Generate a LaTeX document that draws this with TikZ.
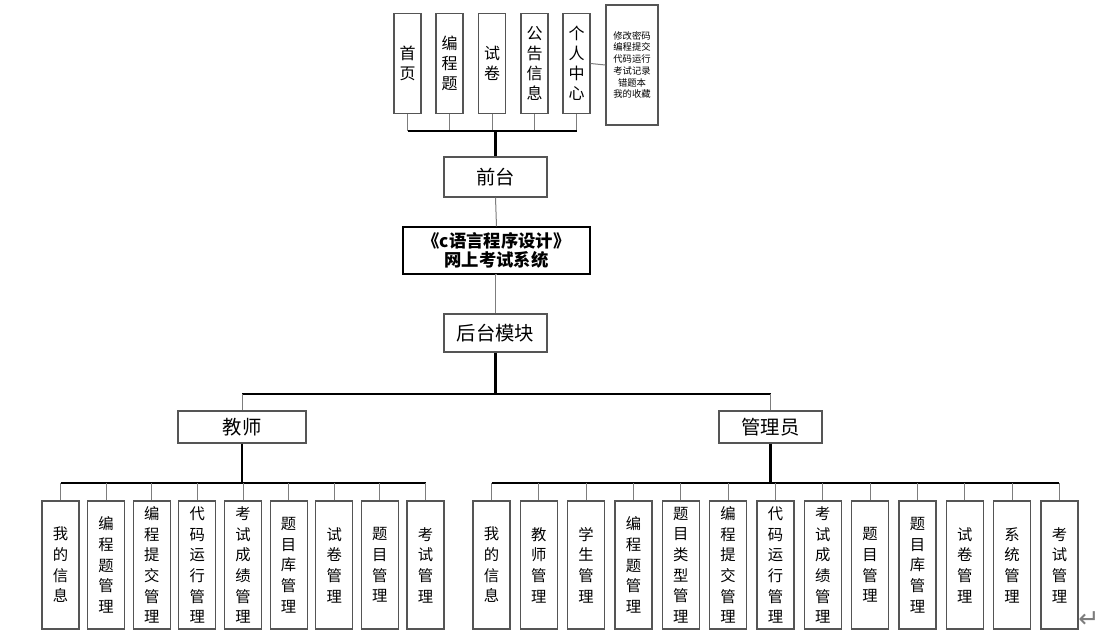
\documentclass[tikz,border=0pt]{standalone}
\usepackage{fontspec}
\setmainfont{Noto Sans CJK SC}
\newfontfamily\markfont{DejaVu Sans}
\definecolor{boxgray}{RGB}{85,85,85}
\definecolor{tickgray}{RGB}{125,125,125}
\tikzset{every picture/.style={line width=0.75pt}}
\tikzset{
  box/.style={draw=boxgray, line width=0.9pt, inner sep=0pt, align=center},
  vbox/.style={box, minimum width=20.25pt, minimum height=75pt, font=\fontsize{12}{15}\selectfont},
  sidebox/.style={box, minimum width=39pt, minimum height=90pt, font=\fontsize{7}{8.8}\selectfont},
  hbox/.style={box, minimum width=77.25pt, minimum height=28.5pt, font=\fontsize{14.5}{16}\selectfont},
  titlebox/.style={box, draw=black, line width=0.8pt, minimum width=140.25pt, minimum height=35.25pt, font=\fontsize{13}{14}\selectfont\bfseries},
  leafbox/.style={box, minimum width=27.75pt, minimum height=96pt, font=\fontsize{11.5}{15.5}\selectfont},
  tick/.style={draw=tickgray, line width=0.75pt},
  bus/.style={draw=black, line width=0.9pt},
  trunk/.style={draw=black, line width=1.8pt}
}

\begin{document}
\begin{tikzpicture}[x=0.75pt,y=0.75pt,yscale=-1,xscale=1]
\useasboundingbox (0,0) rectangle (1118,636);

% front end
\node[vbox] (t1) at (407.5,63.5) {首\\页};
\node[vbox] (t2) at (449.5,63.5) {编\\程\\题};
\node[vbox] (t3) at (492,63.5) {试\\卷};
\node[vbox] (t4) at (534.5,63.5) {公\\告\\信\\息};
\node[vbox] (t5) at (576.5,63.5) {个\\人\\中\\心};
\node[sidebox] (side) at (632,65) {修改密码\\编程提交\\代码运行\\考试记录\\错题本\\我的收藏};
\node[hbox, minimum height=30pt] (front) at (495.5,177) {前台};
\coordinate (topbus) at (495.5,131);

\draw[tick] (t5.east) -- (side.west);
\foreach \i in {1,...,5}
  \draw[tick] (t\i.south) -- (t\i.south |- topbus);
\draw[bus] (t1.south |- topbus) -- (t5.south |- topbus);
\draw[trunk] (topbus) -- (front.north);

% system
\node[titlebox] (sys) at (496.5,250.5) {《c语言程序设计》\\网上考试系统};
\node[hbox] (back) at (495.5,333) {后台模块};
\draw[tick] (front.south) -- (sys.north);
\draw[tick] (sys.south) -- (back.south |- sys.south) -- (back.north);

% back end
\node[hbox, minimum width=96pt, minimum height=24pt] (teacher) at (242,427) {教师};
\node[hbox, minimum height=24pt] (admin) at (770.5,427) {管理员};
\coordinate (midbus) at (495.5,394);
\draw[trunk] (back.south) -- (midbus);
\draw[bus] (teacher.north |- midbus) -- (admin.north |- midbus);
\draw[tick] (teacher.north |- midbus) -- (teacher.north);
\draw[tick] (admin.north |- midbus) -- (admin.north);

% teacher functions
\foreach \i/\txt in {1/{我\\的\\信\\息}, 2/{编\\程\\题\\管\\理}, 3/{编\\程\\提\\交\\管\\理},
    4/{代\\码\\运\\行\\管\\理}, 5/{考\\试\\成\\绩\\管\\理}, 6/{题\\目\\库\\管\\理},
    7/{试\\卷\\管\\理}, 8/{题\\目\\管\\理}, 9/{考\\试\\管\\理}}
  \node[leafbox] (tc\i) at ({60.5+45.625*(\i-1)},565) {\txt};
\coordinate (tbus) at (242,483);
\draw[trunk] (teacher.south) -- (tbus);
\draw[bus] (tc1.north |- tbus) -- (tc9.north |- tbus);
\foreach \i in {1,...,9}
  \draw[tick] (tc\i.north |- tbus) -- (tc\i.north);

% admin functions
\foreach \i/\txt in {1/{我\\的\\信\\息}, 2/{教\\师\\管\\理}, 3/{学\\生\\管\\理},
    4/{编\\程\\题\\管\\理}, 5/{题\\目\\类\\型\\管\\理}, 6/{编\\程\\提\\交\\管\\理},
    7/{代\\码\\运\\行\\管\\理}, 8/{考\\试\\成\\绩\\管\\理}, 9/{题\\目\\管\\理},
    10/{题\\目\\库\\管\\理}, 11/{试\\卷\\管\\理}, 12/{系\\统\\管\\理}, 13/{考\\试\\管\\理}}
  \node[leafbox] (ad\i) at ({491.5+47.33*(\i-1)},565) {\txt};
\coordinate (abus) at (770.5,483);
\draw[trunk] (admin.south) -- (abus);
\draw[bus] (ad1.north |- abus) -- (ad13.north |- abus);
\foreach \i in {1,...,13}
  \draw[tick] (ad\i.north |- abus) -- (ad\i.north);

\node[text=tickgray, font=\markfont\fontsize{19}{19}\selectfont, inner sep=0pt] (mark) at (1089,620) {↵};
\end{tikzpicture}
\end{document}
